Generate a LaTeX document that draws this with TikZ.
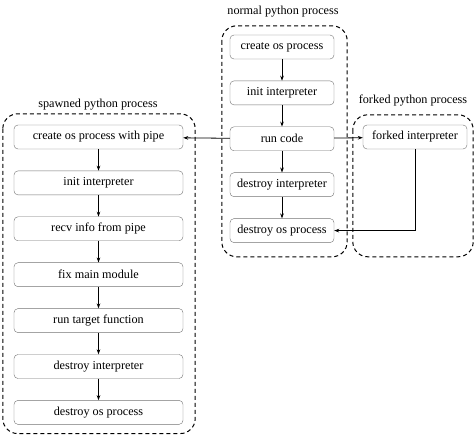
\documentclass[tikz,border=0pt]{standalone}
\usepackage{fontspec}
\setmainfont{Liberation Serif}
\usetikzlibrary{arrows.meta, positioning, calc}

\begin{document}
\begin{tikzpicture}[
        x=1pt, y=1pt,
        node distance=21.5pt,
        font=\fontsize{12.2}{14.5}\selectfont,
        stepbox/.style={rectangle, draw=black!55, fill=white, minimum width=104pt, minimum height=24pt, rounded corners=4pt, inner sep=0pt},
        widebox/.style={stepbox, minimum width=169pt},
        group/.style={draw=black, line width=1pt, dash pattern=on 4pt off 3pt, rounded corners=15pt},
        flow/.style={-{Stealth[length=5pt, width=3.6pt]}, line width=0.8pt},
        grouptitle/.style={inner sep=2pt}
    ]
        \useasboundingbox (0,0) rectangle (474,-435);
        % normal process
        \node[stepbox] (n1) at (282,-47) {create os process};
        \node[stepbox, below=of n1] (n2) {init interpreter};
        \node[stepbox, below=of n2] (n3) {run code};
        \node[stepbox, below=of n3] (n4) {destroy interpreter};
        \node[stepbox, below=of n4] (n5) {destroy os process};
        % spawned process
        \node[widebox] (s1) at (98.5,-137) {create os process with pipe};
        \node[widebox, below=of s1] (s2) {init interpreter};
        \node[widebox, below=of s2] (s3) {recv info from pipe};
        \node[widebox, below=of s3] (s4) {fix main module};
        \node[widebox, below=of s4] (s5) {run target function};
        \node[widebox, below=of s5] (s6) {destroy interpreter};
        \node[widebox, below=of s6] (s7) {destroy os process};
        % forked process
        \node[stepbox] (fork) at (415,-137) {forked interpreter};
        % groups
        \draw[group] ([xshift=-8pt, yshift=9pt]n1.north west) rectangle ([xshift=13pt, yshift=-14pt]n5.south east);
        \draw[group] ([xshift=-11pt, yshift=11pt]s1.north west) rectangle ([xshift=12pt, yshift=-9pt]s7.south east);
        \draw[group] ([xshift=-10pt, yshift=10pt]fork.north west) rectangle ($(fork.east |- n5.south)+(6,-14)$);
        \node[grouptitle] (normaltitle) at (283,-12) {normal python process};
        \node[grouptitle] (spawntitle) at (98,-105) {spawned python process};
        \node[grouptitle] (forktitle) at (413,-101) {forked python process};
        % flows
        \draw[flow] (n1) -- (n2);
        \draw[flow] (n2) -- (n3);
        \draw[flow] (n3) -- (n4);
        \draw[flow] (n4) -- (n5);
        \draw[flow] (s1) -- (s2);
        \draw[flow] (s2) -- (s3);
        \draw[flow] (s3) -- (s4);
        \draw[flow] (s4) -- (s5);
        \draw[flow] (s5) -- (s6);
        \draw[flow] (s6) -- (s7);
        \draw[flow] (n3) -- (s1);
        \draw[flow] (n3) -- (fork);
        \draw[flow] (fork) |- (n5);
    \end{tikzpicture}
\end{document}
